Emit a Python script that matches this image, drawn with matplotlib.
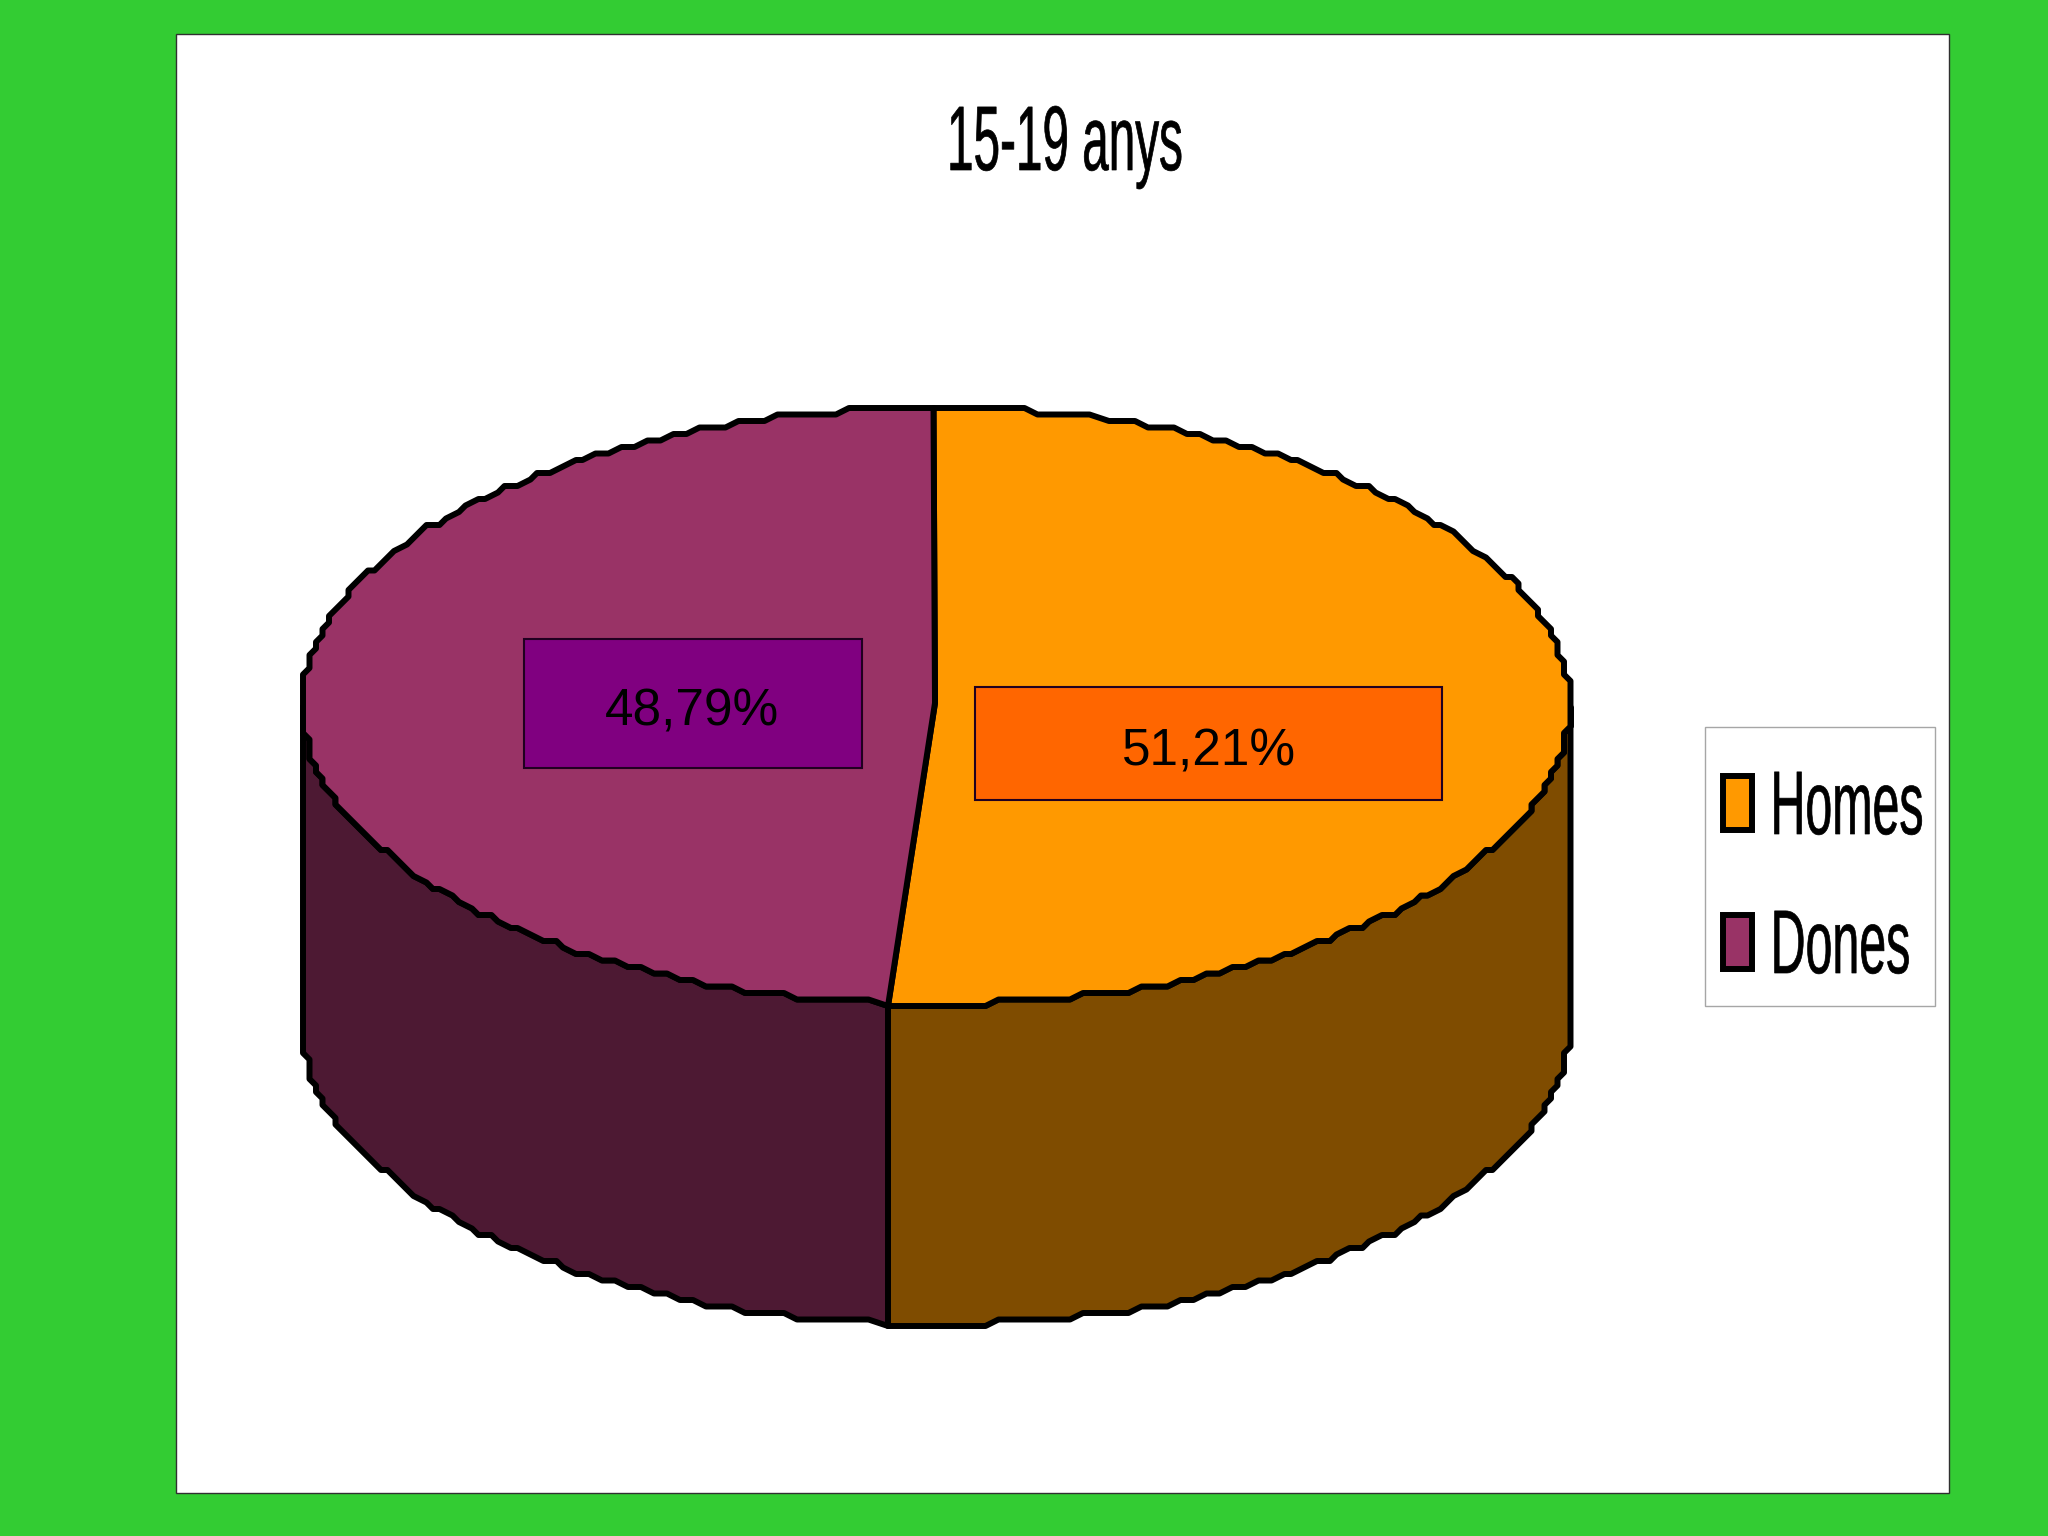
import numpy as np
import matplotlib
matplotlib.use('Agg')
import matplotlib.pyplot as plt
import matplotlib.patheffects as pe
from matplotlib.patches import Polygon, Rectangle
from matplotlib.transforms import Affine2D

TITLE = '15-19 anys'
CATEGORIES = ['Homes', 'Dones']
VALUES = [51.21, 48.79]

GREEN = '#33cc33'
TOP_COLORS = ['#ff9900', '#993366']
SIDE_COLORS = ['#7f4c00', '#4d1933']
LABEL_COLORS = ['#ff6600', '#800080']

# pie geometry, in pixels of the 2048x1536 picture
CX, CY = 936, 706
RX, RY = 633, 298
DEPTH = 320
STEP = 6.5
ARC_STEP = 1.3
LINE = 4.3

plt.rcParams['font.family'] = ['Liberation Sans', 'DejaVu Sans']


class Squeeze(pe.AbstractPathEffect):
    # the original text is stretched tall, matplotlib has no option for that
    def __init__(self, cx, sx, stroke=0.5):
        super().__init__()
        self.cx = cx
        self.sx = sx
        self.stroke = stroke

    def draw_path(self, renderer, gc, tpath, affine, rgbFace=None):
        squeeze = Affine2D().translate(-self.cx, 0).scale(self.sx, 1).translate(self.cx, 0)
        gc0 = renderer.new_gc()
        gc0.copy_properties(gc)
        gc0.set_linewidth(self.stroke)
        gc0.set_foreground('black')
        renderer.draw_path(gc0, tpath, affine + squeeze, rgbFace)
        gc0.restore()


def arc(start, end, drop=0):
    # angles in degrees, clockwise from the back of the pie
    inner = np.arange(np.ceil(start / ARC_STEP), np.floor(end / ARC_STEP) + 1) * ARC_STEP
    angles = np.radians(np.r_[start, inner, end])
    x = CX + RX * np.sin(angles)
    y = CY - RY * np.cos(angles)
    # the outline of the original is a coarse staircase
    x = CX - RX + np.round((x - CX + RX) / STEP) * STEP
    y = CY - RY + np.round((y - CY + RY) / STEP) * STEP
    points = np.column_stack([x, y + drop])
    keep = np.r_[True, np.any(np.diff(points, axis=0) != 0, axis=1)]
    return points[keep]


fig = plt.figure(figsize=(20.48, 15.36), dpi=100, facecolor=GREEN)
ax = fig.add_axes([0, 0, 1, 1])
ax.set_xlim(0, 2048)
ax.set_ylim(1536, 0)
ax.axis('off')

ax.add_patch(Rectangle((176, 34), 1773, 1459, facecolor='white', edgecolor='#303030', linewidth=1))

split = 360 * VALUES[0] / sum(VALUES)

# side walls
side_ranges = [(90, split), (split, 270)]
for (start, end), color in zip(side_ranges, SIDE_COLORS):
    upper = arc(start, end)
    lower = arc(start, end, DEPTH)
    outline = np.vstack([upper, lower[::-1]])
    ax.add_patch(Polygon(outline, closed=True, facecolor=color, edgecolor='black',
                         linewidth=LINE, joinstyle='round'))

# top slices
top_ranges = [(0, split), (split, 360)]
for (start, end), color in zip(top_ranges, TOP_COLORS):
    outline = np.vstack([[[CX - 1, CY - 3]], arc(start, end)])
    ax.add_patch(Polygon(outline, closed=True, facecolor=color, edgecolor='black',
                         linewidth=LINE, joinstyle='round'))

# value labels
label_boxes = [(975, 687, 467, 113), (524, 639, 338, 129)]
label_text = [(1209, 765), (692, 725)]
for value, box, pos, color in zip(VALUES, label_boxes, label_text, LABEL_COLORS):
    ax.add_patch(Rectangle(box[:2], box[2], box[3], facecolor=color, edgecolor='#200020', linewidth=1.5))
    ax.text(pos[0], pos[1], f'{value:.2f}%'.replace('.', ','), fontsize=37, color='black',
            ha='center', va='baseline')

# title
ax.text(1065, 170, TITLE, fontsize=66, color='black', ha='center', va='baseline',
        path_effects=[Squeeze(1065, 0.52)])

# legend
ax.add_patch(Rectangle((1705, 727), 230, 279, facecolor='white', edgecolor='#a6a6a6', linewidth=1))
swatch_y = [776, 915]
text_y = [834, 973]
text_x = [1847, 1840.5]
text_sx = [0.535, 0.535]
for name, color, sy, ty, tx, sx in zip(CATEGORIES, TOP_COLORS, swatch_y, text_y, text_x, text_sx):
    ax.add_patch(Rectangle((1723, sy), 29, 54, facecolor=color, edgecolor='black',
                           linewidth=4.3, joinstyle='miter'))
    ax.text(tx, ty, name, fontsize=65, color='black', ha='center', va='baseline',
            path_effects=[Squeeze(tx, sx)])

fig.savefig('out.png', dpi=100, facecolor=GREEN)
